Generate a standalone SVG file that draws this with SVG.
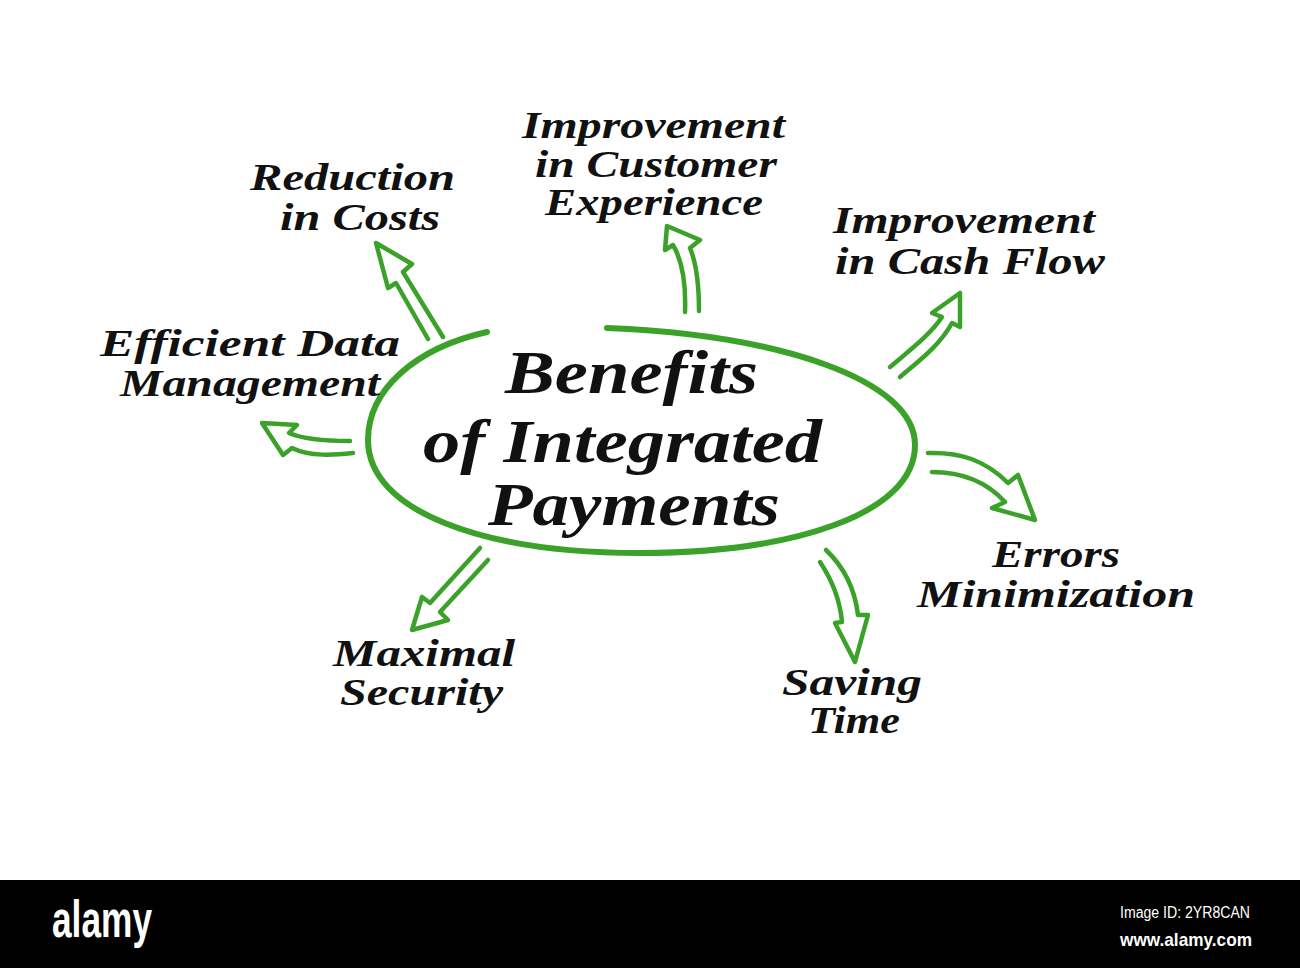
<svg xmlns="http://www.w3.org/2000/svg" width="1300" height="968" viewBox="0 0 1300 968">
<style>
.lbl{font-family:"Liberation Serif","DejaVu Serif",serif;font-style:italic;font-weight:bold;font-size:38px;fill:#111;}
.big{font-family:"Liberation Serif","DejaVu Serif",serif;font-style:italic;font-weight:bold;font-size:62px;fill:#111;}
.arr{fill:none;stroke:#3ba229;stroke-width:4.5;stroke-linejoin:round;stroke-linecap:round;}
.ell{fill:none;stroke:#3ba229;stroke-width:6;stroke-linecap:round;}
</style>
<rect width="1300" height="968" fill="#fff"/>
<g id="center">
<path class="ell" d="M607,328 C780,335 915,380 915,445 C915,515 790,553 640,553 C480,553 368,510 368,440 C368,390 415,348 487,332"/>
<text class="big" x="505" y="393" textLength="253" lengthAdjust="spacingAndGlyphs">Benefits</text>
<text class="big" x="423" y="462" textLength="399" lengthAdjust="spacingAndGlyphs">of Integrated</text>
<text class="big" x="488" y="525" textLength="292" lengthAdjust="spacingAndGlyphs">Payments</text>
</g>
<g id="connectors">
<path class="arr" d="M428,339 L396,283 L388,288 L376,243 L412,264 L403,272 L443,337"/>
<path class="arr" d="M685,312 C686,285 683,262 673,245 L665,250 L667,226 L700,240 L690,248 C697,265 699,285 699,311"/>
<path class="arr" d="M890,367 C910,350 930,335 942,317 L932,313 L960,293 L960,327 L952,323 C940,345 920,360 900,377"/>
<path class="arr" d="M350,441 C330,441 305,440 289,433 L297,425 L262,423 L283,455 L292,448 C310,457 335,455 353,453"/>
<path class="arr" d="M928,453 C960,452 985,460 1008,483 L1018,475 L1035,520 L992,508 L1005,502 C985,480 960,472 932,472"/>
<path class="arr" d="M480,548 L430,603 L422,597 L412,630 L448,620 L440,612 L488,560"/>
<path class="arr" d="M820,562 C832,580 840,600 842,622 L835,623 L855,662 L868,615 L858,615 C855,590 845,568 826,550"/>
</g>
<g id="reduction">
<text class="lbl" x="250" y="190" textLength="205" lengthAdjust="spacingAndGlyphs">Reduction</text>
<text class="lbl" x="280" y="230" textLength="160" lengthAdjust="spacingAndGlyphs">in Costs</text>
</g>
<g id="customer">
<text class="lbl" x="522" y="138" textLength="263" lengthAdjust="spacingAndGlyphs">Improvement</text>
<text class="lbl" x="535" y="177" textLength="242" lengthAdjust="spacingAndGlyphs">in Customer</text>
<text class="lbl" x="545" y="215" textLength="218" lengthAdjust="spacingAndGlyphs">Experience</text>
</g>
<g id="cashflow">
<text class="lbl" x="833" y="233" textLength="262" lengthAdjust="spacingAndGlyphs">Improvement</text>
<text class="lbl" x="835" y="274" textLength="270" lengthAdjust="spacingAndGlyphs">in Cash Flow</text>
</g>
<g id="data">
<text class="lbl" x="100" y="356" textLength="300" lengthAdjust="spacingAndGlyphs">Efficient Data</text>
<text class="lbl" x="120" y="396" textLength="260" lengthAdjust="spacingAndGlyphs">Management</text>
</g>
<g id="errors">
<text class="lbl" x="992" y="567" textLength="128" lengthAdjust="spacingAndGlyphs">Errors</text>
<text class="lbl" x="917" y="607" textLength="278" lengthAdjust="spacingAndGlyphs">Minimization</text>
</g>
<g id="security">
<text class="lbl" x="333" y="666" textLength="182" lengthAdjust="spacingAndGlyphs">Maximal</text>
<text class="lbl" x="340" y="705" textLength="163" lengthAdjust="spacingAndGlyphs">Security</text>
</g>
<g id="saving">
<text class="lbl" x="782" y="695" textLength="140" lengthAdjust="spacingAndGlyphs">Saving</text>
<text class="lbl" x="808" y="733" textLength="92" lengthAdjust="spacingAndGlyphs">Time</text>
</g>
<g id="watermark">
<rect x="0" y="880" width="1300" height="88" fill="#000"/>
<text x="52" y="937" font-family="Liberation Sans Narrow, Liberation Sans, sans-serif" font-weight="bold" font-size="52" fill="#fff" textLength="100" lengthAdjust="spacingAndGlyphs">alamy</text>
<text x="1120" y="918" font-family="Liberation Sans, sans-serif" font-size="16" fill="#fff" textLength="130" lengthAdjust="spacingAndGlyphs">Image ID: 2YR8CAN</text>
<text x="1120" y="946" font-family="Liberation Sans, sans-serif" font-weight="bold" font-size="19" fill="#fff" textLength="132" lengthAdjust="spacingAndGlyphs">www.alamy.com</text>
</g>
</svg>
